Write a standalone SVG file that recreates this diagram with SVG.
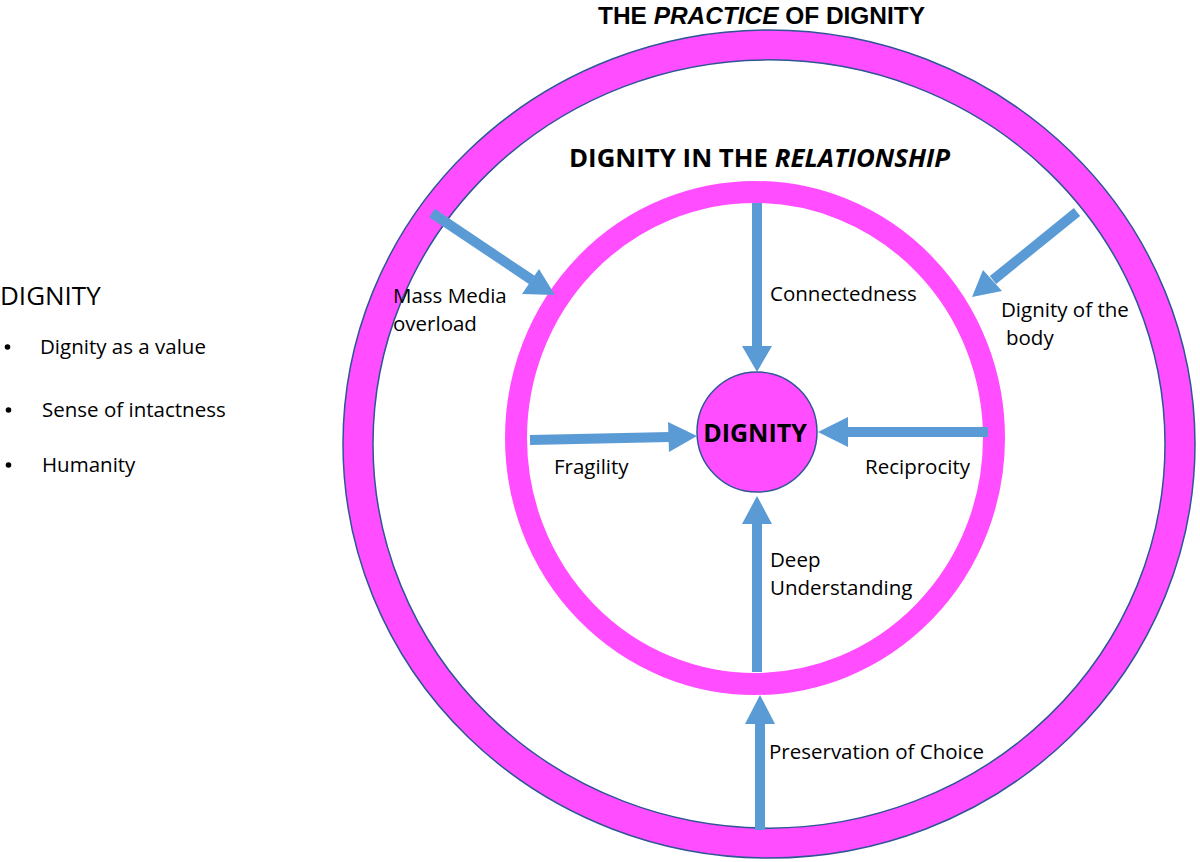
<svg xmlns="http://www.w3.org/2000/svg" width="1200" height="862" viewBox="0 0 1200 862">
<style>
text{font-family:"Open Sans","Liberation Sans",sans-serif;fill:#000}
.lbl{font-size:20.5px}
.ttl{font-weight:bold}
.top{font-family:"Liberation Sans","Open Sans",sans-serif}
.arrow{stroke:#5b9bd5;stroke-width:10;fill:none}
.head{fill:#5b9bd5}
</style>
<rect width="1200" height="862" fill="#fff"/>
<g id="outer-ring">
<path d="M343,444 a426,414 0 1,0 852,0 a426,414 0 1,0 -852,0 Z M373,444 a396,384 0 1,0 792,0 a396,384 0 1,0 -792,0 Z" fill="#ff4dff" fill-rule="evenodd" stroke="#2f5597" stroke-width="1.5"/>
<text class="ttl top" x="598" y="23.5" font-size="24.5" textLength="327" lengthAdjust="spacingAndGlyphs">THE <tspan font-style="italic">PRACTICE</tspan> OF DIGNITY</text>
</g>
<g id="inner-ring">
<ellipse cx="755" cy="438" rx="239" ry="246" fill="none" stroke="#ff4dff" stroke-width="22"/>
<text class="ttl" x="569" y="167" font-size="25" textLength="381" lengthAdjust="spacingAndGlyphs">DIGNITY IN THE <tspan font-style="italic">RELATIONSHIP</tspan></text>
</g>
<g id="center">
<circle cx="757" cy="432" r="60" fill="#ff4dff" stroke="#2f5597" stroke-width="1.5"/>
<text x="755" y="442" text-anchor="middle" font-size="25" font-weight="bold">DIGNITY</text>
</g>
<g id="connectors">
<line class="arrow" x1="757" y1="203" x2="757" y2="346"/>
<polygon class="head" points="742,346 772,346 757,372"/>
<line class="arrow" x1="757" y1="672" x2="757" y2="524"/>
<polygon class="head" points="742,524 772,524 757,496"/>
<line class="arrow" x1="760" y1="830" x2="760" y2="724"/>
<polygon class="head" points="745,724 775,724 760,695"/>
<line class="arrow" x1="530" y1="440" x2="670" y2="437"/>
<polygon class="head" points="668,422 669,452 697,436"/>
<line class="arrow" x1="988" y1="432" x2="847" y2="432"/>
<polygon class="head" points="848,417 848,447 818,432"/>
<line class="arrow" x1="432" y1="213" x2="532" y2="280"/>
<polygon class="head" points="522,294 539,269 555,295"/>
<line class="arrow" x1="1077" y1="212" x2="993" y2="280"/>
<polygon class="head" points="983,270 1002,291 972,297"/>
</g>
<g id="labels">
<text class="lbl" x="393" y="303">Mass Media</text>
<text class="lbl" x="393" y="331">overload</text>
<text class="lbl" x="770" y="301">Connectedness</text>
<text class="lbl" x="1001" y="317">Dignity of the</text>
<text class="lbl" x="1006" y="345">body</text>
<text class="lbl" x="554" y="474">Fragility</text>
<text class="lbl" x="865" y="474">Reciprocity</text>
<text class="lbl" x="770" y="567">Deep</text>
<text class="lbl" x="770" y="595">Understanding</text>
<text class="lbl" x="769" y="759">Preservation of Choice</text>
</g>
<g id="legend">
<text x="0" y="305" font-size="26">DIGNITY</text>
<circle cx="7.5" cy="347" r="2.8" fill="#000"/>
<text class="lbl" x="40" y="354">Dignity as a value</text>
<circle cx="8.5" cy="410" r="2.8" fill="#000"/>
<text class="lbl" x="42" y="417">Sense of intactness</text>
<circle cx="8.5" cy="465" r="2.8" fill="#000"/>
<text class="lbl" x="42" y="472">Humanity</text>
</g>
</svg>
